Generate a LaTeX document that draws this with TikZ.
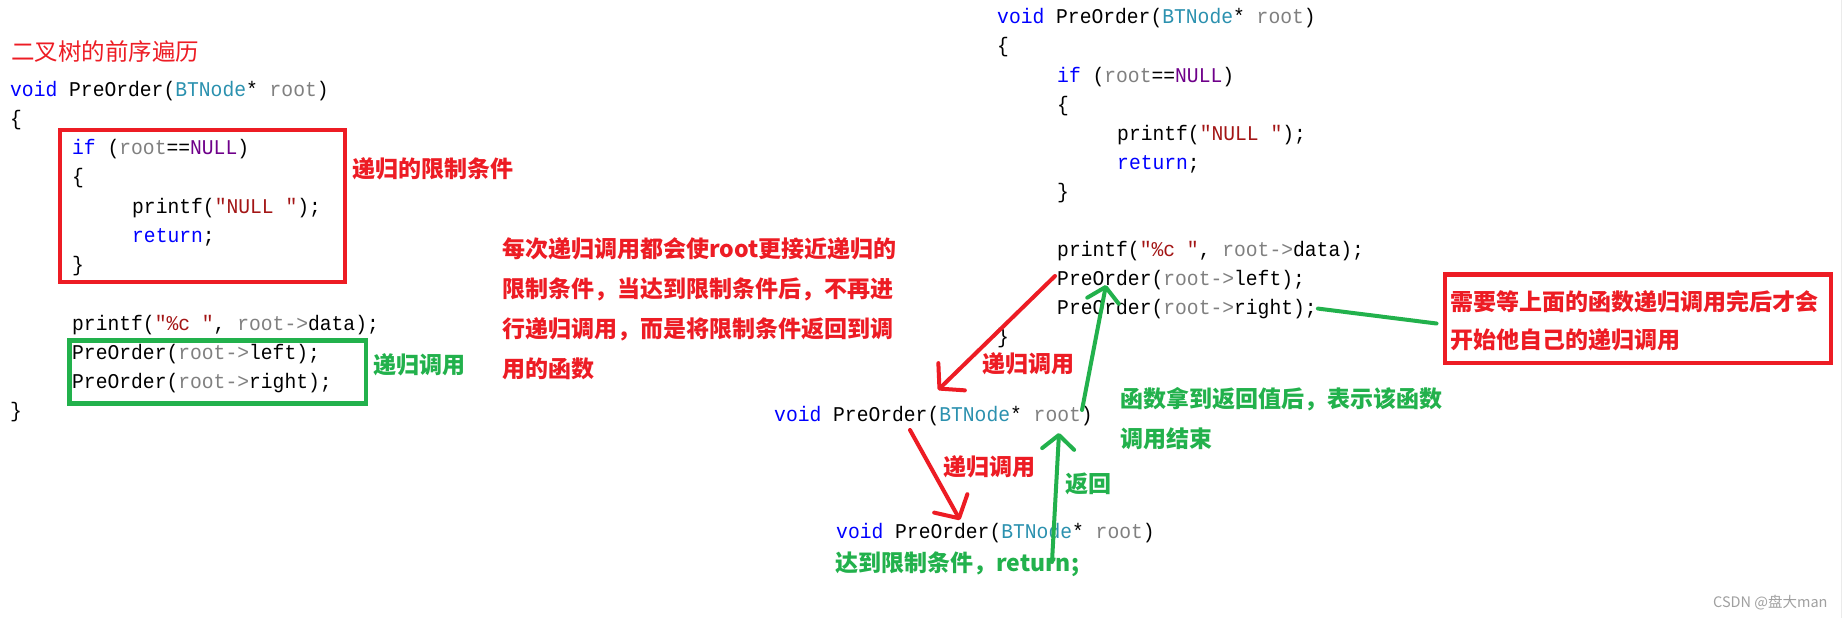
\documentclass[tikz,border=0pt]{standalone}
\usepackage{fontspec}
\usetikzlibrary{arrows.meta}
\newfontfamily\cjk{Noto Sans CJK SC}
\newfontfamily\codefont[FakeStretch=0.936]{Liberation Mono}
\definecolor{pred}{HTML}{ED1C24}
\definecolor{pgreen}{HTML}{22B14C}
\definecolor{ckwc}{HTML}{0000FF}
\definecolor{ctyc}{HTML}{2B91AF}
\definecolor{cvrc}{HTML}{808080}
\definecolor{cmcc}{HTML}{6F008A}
\definecolor{cstc}{HTML}{A31515}
\definecolor{wmark}{HTML}{A0A0A0}
\newcommand\ckw[1]{\textcolor{ckwc}{#1}}
\newcommand\cty[1]{\textcolor{ctyc}{#1}}
\newcommand\cvr[1]{\textcolor{cvrc}{#1}}
\newcommand\cmc[1]{\textcolor{cmcc}{#1}}
\newcommand\cst[1]{\textcolor{cstc}{#1}}
\tikzset{
  code/.style={anchor=base west, inner sep=0pt, font=\codefont\fontsize{21}{21}\selectfont},
  redlab/.style={anchor=west, inner sep=0pt, text=pred, font=\cjk\bfseries\fontsize{23}{23}\selectfont},
  greenlab/.style={anchor=west, inner sep=0pt, text=pgreen, font=\cjk\bfseries\fontsize{23}{23}\selectfont},
  redbox/.style={draw=pred, line width=4.5pt, inner sep=0pt, anchor=north west},
  greenbox/.style={draw=pgreen, line width=4.5pt, inner sep=0pt, anchor=north west},
  redarrow/.style={draw=pred, line width=4pt, line cap=round, line join=round, -{Straight Barb[length=17pt,width=38pt,round]}},
  greenarrow/.style={draw=pgreen, line width=4pt, line cap=round, line join=round, -{Straight Barb[length=14pt,width=32pt,round]}},
  greenline/.style={draw=pgreen, line width=4pt, line cap=round}
}
\begin{document}
\begin{tikzpicture}[x=1pt,y=-1pt]
\fill[white] (0,0) rectangle (1842,618);
\useasboundingbox (0,0) rectangle (1842,618);
\draw[black!8, line width=1pt] (1841,0) -- (1841,618);

% title
\node[anchor=west, inner sep=0pt, text=pred, font=\cjk\fontsize{23.5}{23.5}\selectfont] (title) at (11,52) {二叉树的前序遍历};

% left code
\node[code] (l1) at (10,96) {\ckw{void} PreOrder(\cty{BTNode}* \cvr{root})};
\node[code] (l2) at (10,125) {\{};
\node[code] (l3) at (72,154) {\ckw{if} (\cvr{root}==\cmc{NULL})};
\node[code] (l4) at (72,183) {\{};
\node[code] (l5) at (132,213) {printf(\cst{"NULL "});};
\node[code] (l6) at (132,242) {\ckw{return};};
\node[code] (l7) at (72,271) {\}};
\node[code] (l8) at (72,330) {printf(\cst{"\%c "}, \cvr{root->}data);};
\node[code] (l9) at (72,359) {PreOrder(\cvr{root->}left);};
\node[code] (l10) at (72,388) {PreOrder(\cvr{root->}right);};
\node[code] (l11) at (10,417) {\}};

\node[redbox, minimum width=285pt, minimum height=152pt] (lredbox) at (57.5,127.5) {};
\node[greenbox, minimum width=296.5pt, minimum height=63pt] (lgreenbox) at (67,338) {};
\node[redlab] (limit) at (352,169) {递归的限制条件};
\node[greenlab] (lcall) at (373,365) {递归调用};

% middle paragraph
\node[redlab] (p1) at (502,249) {每次递归调用都会使root更接近递归的};
\node[redlab] (p2) at (502,289) {限制条件，当达到限制条件后，不再进};
\node[redlab] (p3) at (502,329) {行递归调用，而是将限制条件返回到调};
\node[redlab] (p4) at (502,369) {用的函数};

% right code
\node[code] (r1) at (997,24) {\ckw{void} PreOrder(\cty{BTNode}* \cvr{root})};
\node[code] (r2) at (997,53) {\{};
\node[code] (r3) at (1057,82) {\ckw{if} (\cvr{root}==\cmc{NULL})};
\node[code] (r4) at (1057,111) {\{};
\node[code] (r5) at (1117,140) {printf(\cst{"NULL "});};
\node[code] (r6) at (1117,169) {\ckw{return};};
\node[code] (r7) at (1057,198) {\}};
\node[code] (r8) at (1057,256) {printf(\cst{"\%c "}, \cvr{root->}data);};
\node[code] (r9) at (1057,285) {PreOrder(\cvr{root->}left);};
\node[code] (r10) at (1057,314) {PreOrder(\cvr{root->}right);};
\node[code] (r11) at (997,343) {\}};

% middle and bottom calls
\node[code] (m1) at (774,421) {\ckw{void} PreOrder(\cty{BTNode}* \cvr{root})};
\node[code] (b1) at (836,538) {\ckw{void} PreOrder(\cty{BTNode}* \cvr{root})};

% right box
\node[redbox, minimum width=386pt, minimum height=88.5pt] (rbox) at (1442.5,272) {};
\node[redlab] (rb1) at (1450,302) {需要等上面的函数递归调用完后才会};
\node[redlab] (rb2) at (1450,340) {开始他自己的递归调用};

% labels
\node[redlab] (call1) at (982,364) {递归调用};
\node[redlab] (call2) at (943,467) {递归调用};
\node[greenlab] (ret) at (1065,484) {返回};
\node[greenlab] (end1) at (1120,399) {函数拿到返回值后，表示该函数};
\node[greenlab] (end2) at (1120,439) {调用结束};
\node[greenlab] (reach) at (835,564) {达到限制条件，return;};

% arrow end points
\coordinate (a1s) at (1055,276);
\coordinate (a1e) at (938,390);
\coordinate (a2s) at (910,430);
\coordinate (a2e) at (960,520);
\coordinate (a3s) at (1052,562);
\coordinate (a3e) at (1059,433);
\coordinate (a4s) at (1082,410);
\coordinate (a4e) at (1106,285);

\draw[redarrow] (a1s) -- (a1e);
\draw[redarrow] (a2s) -- (a2e);
\draw[greenarrow] (a3s) -- (a3e);
\draw[greenarrow] (a4s) -- (a4e);
\draw[greenline] ([xshift=1pt]r10.east) -- ([xshift=-6pt,yshift=-5pt]rbox.west);

% watermark
\node[anchor=west, inner sep=0pt, text=wmark, font=\cjk\fontsize{14.5}{14.5}\selectfont] (wm) at (1713,603) {CSDN @盘大man};
\end{tikzpicture}
\end{document}
